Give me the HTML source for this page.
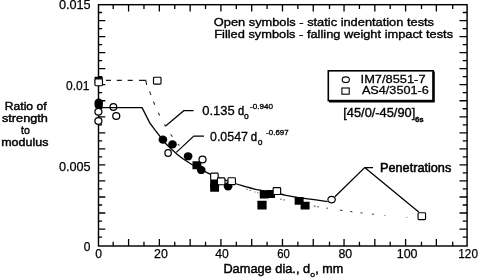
<!DOCTYPE html><html><head><meta charset="utf-8"><title>chart</title><style>html,body{margin:0;padding:0;background:#fff}svg{display:block}text{font-family:"Liberation Sans",sans-serif;fill:#000;stroke:#000}</style></head><body>
<svg width="480" height="279" viewBox="0 0 480 279">
<rect width="480" height="279" fill="#fff"/>
<path d="M98.50 237.08h3.6M467.10 237.08h-4.4M98.50 229.06h6.8M467.10 229.06h-7.6M98.50 221.04h3.6M467.10 221.04h-4.4M98.50 213.02h6.8M467.10 213.02h-7.6M98.50 205.00h3.6M467.10 205.00h-4.4M98.50 196.98h6.8M467.10 196.98h-7.6M98.50 188.96h3.6M467.10 188.96h-4.4M98.50 180.94h6.8M467.10 180.94h-7.6M98.50 172.92h3.6M467.10 172.92h-4.4M98.50 164.90h6.8M467.10 164.90h-7.6M98.50 156.88h3.6M467.10 156.88h-4.4M98.50 148.86h6.8M467.10 148.86h-7.6M98.50 140.84h3.6M467.10 140.84h-4.4M98.50 132.82h6.8M467.10 132.82h-7.6M98.50 124.80h3.6M467.10 124.80h-4.4M98.50 116.78h6.8M467.10 116.78h-7.6M98.50 108.76h3.6M467.10 108.76h-4.4M98.50 100.74h6.8M467.10 100.74h-7.6M98.50 92.72h3.6M467.10 92.72h-4.4M98.50 84.70h6.8M467.10 84.70h-7.6M98.50 76.68h3.6M467.10 76.68h-4.4M98.50 68.66h6.8M467.10 68.66h-7.6M98.50 60.64h3.6M467.10 60.64h-4.4M98.50 52.62h6.8M467.10 52.62h-7.6M98.50 44.60h3.6M467.10 44.60h-4.4M98.50 36.58h6.8M467.10 36.58h-7.6M98.50 28.56h3.6M467.10 28.56h-4.4M98.50 20.54h6.8M467.10 20.54h-7.6M98.50 12.52h3.6M467.10 12.52h-4.4M113.19 246.00v-4.2M113.19 4.70v4.2M128.58 246.00v-6.9M128.58 4.70v6.9M143.97 246.00v-4.2M143.97 4.70v4.2M159.36 246.00v-6.9M159.36 4.70v6.9M174.75 246.00v-4.2M174.75 4.70v4.2M190.14 246.00v-6.9M190.14 4.70v6.9M205.53 246.00v-4.2M205.53 4.70v4.2M220.92 246.00v-6.9M220.92 4.70v6.9M236.31 246.00v-4.2M236.31 4.70v4.2M251.70 246.00v-6.9M251.70 4.70v6.9M267.09 246.00v-4.2M267.09 4.70v4.2M282.48 246.00v-6.9M282.48 4.70v6.9M297.87 246.00v-4.2M297.87 4.70v4.2M313.26 246.00v-6.9M313.26 4.70v6.9M329.50 246.00v-4.2M329.50 4.70v4.2M344.04 246.00v-6.9M344.04 4.70v6.9M359.43 246.00v-4.2M359.43 4.70v4.2M374.82 246.00v-6.9M374.82 4.70v6.9M390.21 246.00v-4.2M390.21 4.70v4.2M405.60 246.00v-6.9M405.60 4.70v6.9M421.50 246.00v-4.2M421.50 4.70v4.2M436.38 246.00v-6.9M436.38 4.70v6.9M452.70 246.00v-4.2M452.70 4.70v4.2" stroke="#000" stroke-width="1.3" fill="none"/>
<rect x="98.5" y="4.7" width="368.6" height="241.3" fill="none" stroke="#000" stroke-width="1.45"/>
<polyline points="98.5,107.6 142.1,107.6 149.6,122.6 155.3,130.4 162.8,139.8 164.5,142.3 167.6,145.5 170.7,148.5 173.8,151.3 176.8,153.9 179.9,156.4 183.0,158.7 186.0,160.8 189.1,162.8 192.2,164.7 195.3,166.5 198.3,168.3 201.4,169.9 204.5,171.4 207.5,172.9 210.6,174.3 213.7,175.6 216.8,176.9 219.8,178.1 222.9,179.3 226.0,180.4 229.0,181.5 232.1,182.6 235.2,183.5 238.3,184.5 241.3,185.4 244.4,186.3 247.5,187.2 250.5,188.0 253.6,188.8 256.7,189.6 260.0,190.2 282.5,194.5 286.0,195.3 300.0,197.8 316.0,199.9 327.6,201.6" fill="none" stroke="#000" stroke-width="1.3"/>
<path d="M105.9 80.4H138" stroke="#1a1a1a" stroke-width="1.1" stroke-dasharray="5 5.9" fill="none"/>
<path d="M139 80.4H145.7L146.7 84.8" stroke="#1a1a1a" stroke-width="1.1" fill="none"/>
<path d="M149.6 91.5L150.9 95.1" stroke="#333" stroke-width="1.1" fill="none"/>
<path d="M153.4 101.5L154.7 104.7" stroke="#333" stroke-width="1.1" fill="none"/>
<path d="M158.3 112.7L159.6 115.4" stroke="#333" stroke-width="1.1" fill="none"/>
<path d="M164.5 124.5L165.6 126.4" stroke="#222" stroke-width="1.1" fill="none"/>
<path d="M170.6 134.2L172.4 136.8" stroke="#333" stroke-width="1.1" fill="none"/>
<path d="M178.0 144.0L179.4 145.7" stroke="#333" stroke-width="1.1" fill="none"/>
<path d="M246.4 189.1L247.6 189.5" stroke="#555" stroke-width="1.1" fill="none"/>
<path d="M249.6 190.2L250.8 190.6" stroke="#555" stroke-width="1.1" fill="none"/>
<path d="M254.6 191.9L255.6 192.2" stroke="#888" stroke-width="1.1" fill="none"/>
<path d="M257.2 192.7L258.4 193.1" stroke="#555" stroke-width="1.1" fill="none"/>
<path d="M280.3 199.1L281.5 199.4" stroke="#555" stroke-width="1.1" fill="none"/>
<path d="M283.3 199.8L284.6 200.1" stroke="#555" stroke-width="1.1" fill="none"/>
<path d="M314.0 206.1L315.6 206.3" stroke="#444" stroke-width="1.1" fill="none"/>
<path d="M317.4 206.6L318.8 206.9" stroke="#555" stroke-width="1.1" fill="none"/>
<path d="M326.4 208.1L328.0 208.3" stroke="#555" stroke-width="1.1" fill="none"/>
<path d="M340.0 210.1L342.6 210.5" stroke="#444" stroke-width="1.1" fill="none"/>
<path d="M350.0 211.5L352.4 211.8" stroke="#444" stroke-width="1.1" fill="none"/>
<path d="M360.4 212.7L362.6 213.0" stroke="#444" stroke-width="1.1" fill="none"/>
<path d="M372.0 214.1L374.0 214.3" stroke="#555" stroke-width="1.1" fill="none"/>
<path d="M384.0 215.3L385.6 215.5" stroke="#999" stroke-width="1.1" fill="none"/>
<path d="M406.2 217.4L407.4 217.5" stroke="#999" stroke-width="1.1" fill="none"/>
<path d="M193.6 110.7H183.8L165.6 126" stroke="#000" stroke-width="1.2" fill="none"/>
<path d="M204 136.1H193.8L176.3 152.4" stroke="#000" stroke-width="1.2" fill="none"/>
<path d="M334.9 196.7L364.7 167.6H373M364.7 167.6L418.7 212" stroke="#000" stroke-width="1.3" fill="none"/>
<rect x="94.70" y="76.70" width="8.0" height="7.6" rx="0.5" fill="#000"/>
<ellipse cx="98.7" cy="102.8" rx="4.2" ry="4.2" fill="#000"/>
<ellipse cx="98.7" cy="105.1" rx="4.2" ry="4.0" fill="#000"/>
<ellipse cx="162.9" cy="139.7" rx="4.35" ry="4.1" fill="#000"/>
<ellipse cx="172.5" cy="144.4" rx="4.35" ry="4.1" fill="#000"/>
<ellipse cx="188.1" cy="156.25" rx="4.35" ry="4.1" fill="#000"/>
<rect x="192.45" y="161.20" width="8.9" height="8.0" rx="0.5" fill="#000"/>
<ellipse cx="201.2" cy="170" rx="4.35" ry="4.1" fill="#000"/>
<rect x="210.15" y="180.00" width="8.9" height="8.0" rx="0.5" fill="#000"/>
<rect x="210.15" y="183.80" width="8.9" height="8.0" rx="0.5" fill="#000"/>
<ellipse cx="228.1" cy="186.3" rx="4.35" ry="4.1" fill="#000"/>
<rect x="259.75" y="190.40" width="8.9" height="8.0" rx="0.5" fill="#000"/>
<rect x="266.15" y="189.90" width="8.9" height="8.0" rx="0.5" fill="#000"/>
<rect x="257.40" y="200.70" width="9.2" height="8.8" rx="0.5" fill="#000"/>
<rect x="294.65" y="197.00" width="9.0" height="7.8" rx="0.5" fill="#000"/>
<rect x="300.60" y="201.70" width="9.0" height="7.8" rx="0.5" fill="#000"/>
<rect x="94.95" y="78.85" width="7.5" height="6.9" rx="0.9" fill="#fff" stroke="#000" stroke-width="1.15"/>
<ellipse cx="98.4" cy="111.75" rx="3.5" ry="3.4" fill="#fff" stroke="#000" stroke-width="1.25"/>
<ellipse cx="98.4" cy="121" rx="3.5" ry="3.4" fill="#fff" stroke="#000" stroke-width="1.25"/>
<ellipse cx="113.4" cy="107" rx="3.35" ry="3.3" fill="none" stroke="#000" stroke-width="1.25"/>
<ellipse cx="116.25" cy="116" rx="3.5" ry="3.4" fill="#fff" stroke="#000" stroke-width="1.25"/>
<rect x="153.50" y="77.20" width="7.5" height="6.9" rx="0.9" fill="#fff" stroke="#000" stroke-width="1.15"/>
<ellipse cx="168.1" cy="153.0" rx="3.2" ry="3.3" fill="#fff" stroke="#000" stroke-width="1.25"/>
<ellipse cx="202.5" cy="159.4" rx="3.5" ry="3.4" fill="#fff" stroke="#000" stroke-width="1.25"/>
<rect x="210.65" y="173.05" width="7.5" height="6.9" rx="0.9" fill="#fff" stroke="#000" stroke-width="1.15"/>
<rect x="217.45" y="177.85" width="7.5" height="6.9" rx="0.9" fill="#fff" stroke="#000" stroke-width="1.15"/>
<rect x="227.95" y="177.75" width="7.5" height="6.9" rx="0.9" fill="#fff" stroke="#000" stroke-width="1.15"/>
<rect x="273.15" y="187.55" width="7.5" height="6.9" rx="0.9" fill="#fff" stroke="#000" stroke-width="1.15"/>
<ellipse cx="331.6" cy="199.6" rx="3.7" ry="3.3" fill="#fff" stroke="#000" stroke-width="1.25"/>
<rect x="418.05" y="212.75" width="7.5" height="6.9" rx="0.9" fill="#fff" stroke="#000" stroke-width="1.15"/>
<rect x="328.3" y="70.8" width="104.9" height="29.8" fill="#fff" stroke="#000" stroke-width="1.6"/>
<path d="M433.6 71.5V101.2H329" stroke="#000" stroke-width="2.4" fill="none"/>
<ellipse cx="345.8" cy="79.7" rx="3.6" ry="2.8" fill="#fff" stroke="#000" stroke-width="1.1"/>
<rect x="341.9" y="88" width="7.3" height="6.2" fill="#fff" stroke="#000" stroke-width="1.1"/>
<text x="58.90" y="9.2" font-size="13.3" stroke-width="0.25" textLength="31.78" lengthAdjust="spacingAndGlyphs">0.015</text>
<text x="66.00" y="89.6" font-size="13.3" stroke-width="0.25" textLength="23.36" lengthAdjust="spacingAndGlyphs">0.01</text>
<text x="58.90" y="170.9" font-size="13.3" stroke-width="0.25" textLength="31.78" lengthAdjust="spacingAndGlyphs">0.005</text>
<text x="83.70" y="251.2" font-size="13.3" stroke-width="0.25" textLength="6.66" lengthAdjust="spacingAndGlyphs">0</text>
<text x="95.30" y="258.0" font-size="13.3" stroke-width="0.25" textLength="6.76" lengthAdjust="spacingAndGlyphs">0</text>
<text x="154.00" y="258.0" font-size="13.3" stroke-width="0.25" textLength="13.77" lengthAdjust="spacingAndGlyphs">20</text>
<text x="215.20" y="258.0" font-size="13.3" stroke-width="0.25" textLength="13.56" lengthAdjust="spacingAndGlyphs">40</text>
<text x="277.30" y="258.0" font-size="13.3" stroke-width="0.25" textLength="12.64" lengthAdjust="spacingAndGlyphs">60</text>
<text x="338.40" y="258.0" font-size="13.3" stroke-width="0.25" textLength="13.77" lengthAdjust="spacingAndGlyphs">80</text>
<text x="396.76" y="258.0" font-size="13.3" stroke-width="0.25" textLength="20.81" lengthAdjust="spacingAndGlyphs">100</text>
<text x="458.31" y="258.0" font-size="13.3" stroke-width="0.25" textLength="19.63" lengthAdjust="spacingAndGlyphs">120</text>
<text x="213.80" y="26.0" font-size="11.7" stroke-width="0.36" textLength="220.23" lengthAdjust="spacingAndGlyphs">Open symbols - static indentation tests</text>
<text x="214.20" y="38.0" font-size="11.7" stroke-width="0.36" textLength="238.93" lengthAdjust="spacingAndGlyphs">Filled symbols - falling weight impact tests</text>
<text x="202.20" y="115.0" font-size="13.4" stroke-width="0.3" textLength="32.43" lengthAdjust="spacingAndGlyphs">0.135</text>
<text x="237.90" y="115.0" font-size="13.0" stroke-width="0.45" textLength="6.20" lengthAdjust="spacingAndGlyphs">d</text>
<text x="243.90" y="118.9" font-size="8.2" stroke-width="0.32" textLength="4.74" lengthAdjust="spacingAndGlyphs">o</text>
<text x="250.00" y="109.3" font-size="7.4" stroke-width="0.3" textLength="23.12" lengthAdjust="spacingAndGlyphs">-0.940</text>
<text x="210.00" y="140.5" font-size="13.4" stroke-width="0.3" textLength="38.02" lengthAdjust="spacingAndGlyphs">0.0547</text>
<text x="250.80" y="140.5" font-size="13.0" stroke-width="0.45" textLength="6.30" lengthAdjust="spacingAndGlyphs">d</text>
<text x="257.80" y="145.0" font-size="8.2" stroke-width="0.32" textLength="4.74" lengthAdjust="spacingAndGlyphs">o</text>
<text x="266.25" y="135.0" font-size="7.2" stroke-width="0.3" textLength="22.25" lengthAdjust="spacingAndGlyphs">-0.697</text>
<text x="380.00" y="171.5" font-size="12.1" stroke-width="0.5" textLength="71.25" lengthAdjust="spacingAndGlyphs">Penetrations</text>
<text x="360.60" y="82.8" font-size="11.7" stroke-width="0.28" textLength="64.95" lengthAdjust="spacingAndGlyphs">IM7/8551-7</text>
<text x="361.90" y="93.9" font-size="11.7" stroke-width="0.28" textLength="66.94" lengthAdjust="spacingAndGlyphs">AS4/3501-6</text>
<text x="343.30" y="116.9" font-size="12.6" stroke-width="0.35" textLength="71.91" lengthAdjust="spacingAndGlyphs">[45/0/-45/90]</text>
<text x="415.00" y="122.3" font-size="6.8" font-weight="bold" stroke-width="0.3" textLength="8.75" lengthAdjust="spacingAndGlyphs">6s</text>
<text x="4.80" y="110.1" font-size="11.7" stroke-width="0.42" textLength="41.82" lengthAdjust="spacingAndGlyphs">Ratio of</text>
<text x="1.90" y="121.9" font-size="11.7" stroke-width="0.42" textLength="46.05" lengthAdjust="spacingAndGlyphs">strength</text>
<text x="21.00" y="133.9" font-size="11.7" stroke-width="0.42" textLength="8.85" lengthAdjust="spacingAndGlyphs">to</text>
<text x="1.20" y="145.6" font-size="11.7" stroke-width="0.42" textLength="47.33" lengthAdjust="spacingAndGlyphs">modulus</text>
<text x="223.40" y="273.2" font-size="12.8" stroke-width="0.45" textLength="86.72" lengthAdjust="spacingAndGlyphs">Damage dia., d</text>
<text x="310.30" y="277.2" font-size="7.6" stroke-width="0.3" textLength="4.86" lengthAdjust="spacingAndGlyphs">o</text>
<text x="315.32" y="273.2" font-size="12.8" stroke-width="0.45" textLength="27.93" lengthAdjust="spacingAndGlyphs">, mm</text>
</svg></body></html>
